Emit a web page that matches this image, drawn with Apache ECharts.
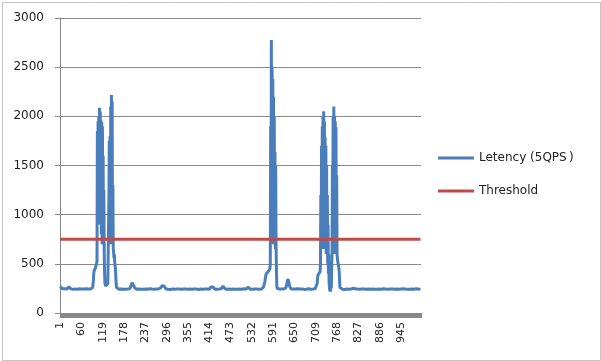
<!DOCTYPE html>
<html>
<head>
<meta charset="utf-8">
<script src="https://cdn.jsdelivr.net/npm/echarts@6/dist/echarts.min.js"></script>
<style>
html,body{margin:0;padding:0;background:#fff;}
#chart{width:601px;height:361px;}
</style>
</head>
<body>
<div id="chart"></div>
<script>
// ---- data ----
const categoryCount = 1000;
const categories = Array.from({length: categoryCount}, (_, i) => String(i + 1));
const seriesNames = ['Letency (5QPS)', 'Threshold'];
const thresholdValue = 750;
const yTicks = [0, 500, 1000, 1500, 2000, 2500, 3000];
const latency = [
268,264,259,255,251,248,246,245,243,245,242,244,246,243,241,244,245,242,243,246,
247,252,258,263,266,267,264,259,253,248,245,243,242,243,245,241,240,243,244,242,
241,243,245,242,240,244,243,241,242,245,243,240,242,244,246,243,241,242,245,244,
243,241,244,246,242,240,243,245,244,242,241,243,246,244,242,243,245,247,244,242,
243,245,244,246,243,242,245,247,248,252,258,275,330,400,430,445,438,452,446,460,
455,470,520,1850,1200,1950,900,2000,1100,2087,1300,2050,1000,1960,800,1940,700,1900,1300,1600,
700,1250,600,400,300,288,275,270,280,285,290,295,300,310,320,1200,1750,900,1800,700,
2100,800,2218,900,2150,700,1300,650,620,560,600,520,500,450,380,300,260,250,246,244,
243,245,242,241,244,246,243,240,242,245,244,241,243,246,244,242,240,243,245,242,
244,241,243,246,242,244,245,243,241,244,246,243,245,248,252,258,268,285,300,308,
312,306,300,290,278,266,256,250,247,245,243,244,242,245,243,241,244,246,243,242,
244,241,243,245,242,240,243,245,244,242,241,243,246,244,242,243,245,242,244,241,
243,246,242,244,245,243,241,244,246,243,240,242,244,246,243,241,242,245,244,243,
241,244,246,242,240,243,245,244,242,241,243,246,244,242,243,245,247,250,255,260,
266,272,276,274,268,262,265,270,274,270,262,254,248,245,243,241,244,246,243,242,
244,241,243,245,242,240,243,245,244,242,241,243,246,244,242,243,245,242,244,241,
243,246,242,244,245,243,241,244,246,243,240,242,244,246,243,241,242,245,244,243,
241,244,246,242,240,243,245,244,242,241,243,246,244,242,243,245,242,244,241,243,
246,242,244,245,243,241,244,246,243,240,242,244,246,243,241,242,245,244,243,241,
244,246,242,240,243,245,244,242,241,243,246,244,242,243,245,242,244,241,243,246,
242,244,245,243,241,244,246,243,240,242,244,246,243,241,242,245,250,258,266,274,
280,284,278,270,262,254,248,245,243,241,244,246,243,242,244,241,243,245,242,240,
243,245,244,242,241,243,246,250,256,264,270,275,272,266,258,251,246,243,245,242,
244,241,243,246,242,244,245,243,241,244,246,243,240,242,244,246,243,241,242,245,
244,243,241,244,246,242,240,243,245,244,242,241,243,246,244,242,243,245,242,244,
241,243,246,242,244,245,243,241,244,246,243,240,242,244,246,243,241,242,245,250,
256,262,258,252,247,244,242,241,244,246,243,242,244,241,243,245,242,240,243,245,
244,242,241,243,246,244,242,243,245,242,244,241,243,246,242,244,245,243,241,244,
246,248,252,260,275,290,300,320,345,370,390,400,410,405,415,420,410,425,430,420,
440,450,500,1900,700,2776,900,2500,800,2380,1100,2200,700,2000,900,1636,650,1500,700,450,
280,252,246,243,245,242,241,244,246,243,242,244,241,243,245,242,240,243,245,244,
242,244,243,245,248,255,265,280,300,322,338,345,340,325,305,285,268,256,248,245,
243,241,244,246,243,242,244,241,243,245,242,240,243,245,244,242,241,243,246,244,
242,243,245,242,244,241,243,246,242,244,245,243,241,244,246,243,240,242,244,246,
243,241,242,245,244,243,241,244,246,242,240,243,245,244,242,241,243,246,244,242,
243,245,242,244,241,243,246,242,244,245,248,255,300,360,385,390,380,395,385,400,
420,500,1200,700,1700,650,1900,800,2000,700,2051,900,1950,650,1788,1000,1700,600,1500,700,
1200,500,900,400,600,300,260,220,280,216,300,250,240,600,1500,800,2000,700,2099,900,
2000,600,1950,800,1890,700,1400,600,550,520,500,480,470,420,330,260,245,243,241,244,
246,243,242,244,241,243,245,242,240,243,245,244,242,241,243,246,244,242,243,245,
242,244,241,243,246,242,244,245,250,256,262,258,252,247,244,242,241,244,246,243,
240,242,244,246,243,241,242,245,244,243,241,244,246,242,240,243,245,244,242,241,
243,246,244,242,243,245,242,244,241,243,246,242,244,245,243,241,244,246,243,240,
242,244,246,243,241,242,245,244,243,241,244,246,242,240,243,245,244,242,241,243,
246,244,242,243,245,242,244,241,243,246,242,244,245,243,241,244,246,243,240,242,
244,246,243,241,242,245,244,243,241,244,246,242,240,243,245,244,242,241,243,246,
244,242,243,245,242,244,241,243,246,242,244,245,243,241,244,246,243,240,242,244,
246,243,241,242,245,248,254,260,256,250,246,244,242,241,244,246,243,242,244,241,
243,245,242,240,243,245,244,242,241,243,246,244,242,243,245,242,244,241,243,246,
242,244,245,243,241,244,246,243,240,242,244,246,243,241,242,245,244,243,241,238
];
const threshold = categories.map(() => thresholdValue);

// ---- chart ----
const chart = echarts.init(document.getElementById('chart'), null, {renderer: 'canvas'});
const FONT = 'DejaVu Sans';
chart.setOption({
  animation: false,
  backgroundColor: '#fff',
  graphic: [{
    type: 'rect', left: 0, top: 0,
    shape: {x: 0.5, y: 0.5, width: 598, height: 358},
    style: {fill: 'none', stroke: '#8c8c8c', lineWidth: 1, lineDash: [1, 1]},
    silent: true
  }],
  grid: {left: 60, right: 180, top: 18, bottom: 48, containLabel: false},
  legend: {
    orient: 'vertical',
    left: 438, top: 152,
    padding: 0,
    icon: 'rect',
    itemWidth: 36, itemHeight: 3, itemGap: 21,
    textStyle: {fontFamily: FONT, fontSize: 12, color: '#222'},
    // a thin space keeps the closing bracket from being dropped by the renderer
    formatter: name => name.replace(/\)$/, '\u2009)'),
    data: seriesNames
  },
  xAxis: {
    type: 'category',
    data: categories,
    boundaryGap: true,
    axisLine: {show: true, lineStyle: {color: '#888', width: 1}},
    axisTick: {show: true, interval: 0, length: 5, lineStyle: {color: '#888'}},
    axisLabel: {interval: 58, rotate: 90, margin: 9, fontFamily: FONT, fontSize: 11, color: '#222'},
    splitLine: {show: false}
  },
  yAxis: {
    type: 'value',
    min: yTicks[0], max: yTicks[yTicks.length - 1], interval: 500,
    axisLine: {show: true, lineStyle: {color: '#888', width: 1}},
    axisTick: {show: true, length: 5, lineStyle: {color: '#888'}},
    axisLabel: {margin: 16, fontFamily: FONT, fontSize: 12, color: '#222', formatter: v => String(v)},
    splitLine: {show: true, lineStyle: {color: '#8a8a8a', width: 1}}
  },
  series: [
    {
      name: seriesNames[0], type: 'line', data: latency,
      symbol: 'none', showSymbol: false, sampling: null,
      lineStyle: {color: '#4A7EBB', width: 3},
      itemStyle: {color: '#4A7EBB'},
      z: 2
    },
    {
      name: seriesNames[1], type: 'line', data: threshold,
      symbol: 'none', showSymbol: false,
      lineStyle: {color: '#BE4B48', width: 3},
      itemStyle: {color: '#BE4B48'},
      z: 3
    }
  ]
});
</script>
</body>
</html>
